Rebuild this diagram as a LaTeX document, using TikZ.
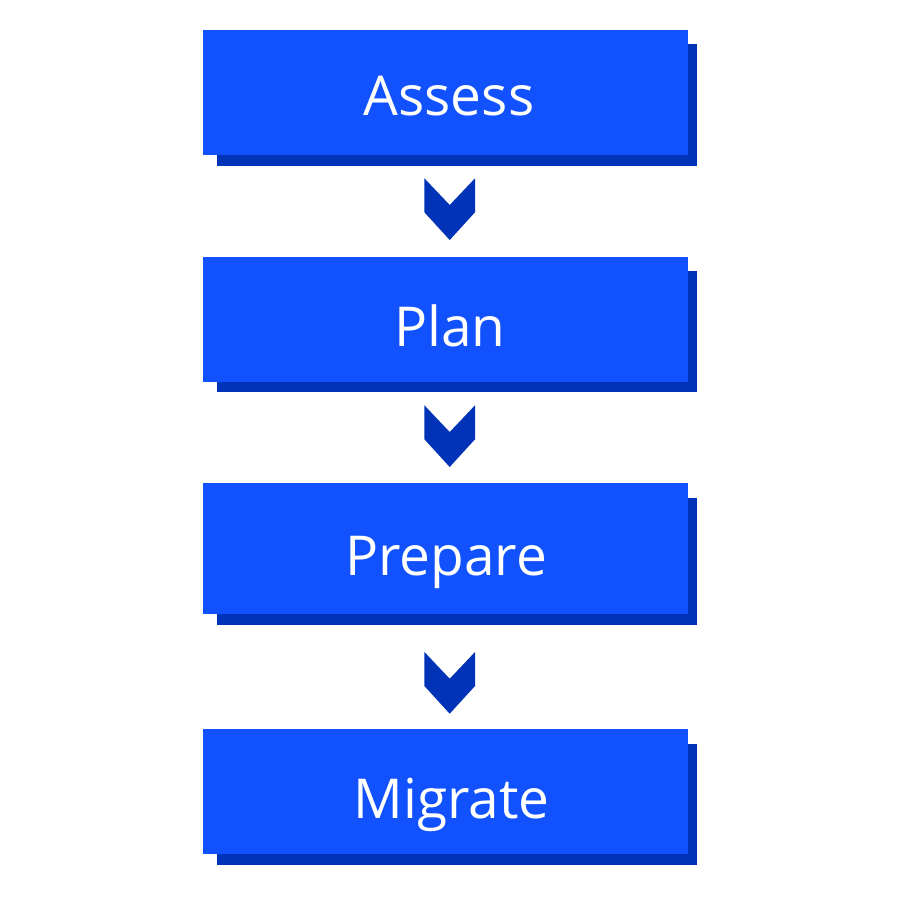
\documentclass[tikz,border=0pt]{standalone}
\usepackage{fontspec}
\setmainfont{Open Sans}
\definecolor{boxblue}{HTML}{1152FE}
\definecolor{darkblue}{HTML}{0033B8}
\tikzset{
  stepbox/.style={rectangle, fill=boxblue, draw=none, inner sep=0pt, minimum width=485pt, anchor=north west},
  shadowbox/.style={fill=darkblue},
  steplabel/.style={text=white, anchor=base, inner sep=0pt, font=\fontsize{55}{66}\selectfont},
  chevron/.pic={\fill[darkblue] (-25.3,0) -- (0,26.7) -- (25.3,0) -- (25.3,34) -- (0,61.7) -- (-25.3,34) -- cycle;}
}
\begin{document}
\begin{tikzpicture}[x=1pt,y=-1pt]
\useasboundingbox (0,0) rectangle (900,900);
% shadows
\fill[shadowbox] (217,44.3) rectangle (697.3,166);
\fill[shadowbox] (217,270.5) rectangle (697.3,392.3);
\fill[shadowbox] (217,497.7) rectangle (697.3,624.7);
\fill[shadowbox] (217,743.7) rectangle (697.3,865);
% boxes
\node[stepbox, minimum height=125pt] (b1) at (202.3,30) {};
\node[stepbox, minimum height=125.4pt] (b2) at (202.3,256.3) {};
\node[stepbox, minimum height=131.3pt] (b3) at (202.3,482.7) {};
\node[stepbox, minimum height=125pt] (b4) at (202.3,729) {};
% labels
\node[steplabel] (t1) at (449,115) {Assess};
\node[steplabel] (t2) at (450,346) {Plan};
\node[steplabel] (t3) at (446,575.7) {Prepare};
\node[steplabel] (t4) at (451.5,818.3) {Migrate};
% chevrons
\pic at (449.7,178.3) {chevron};
\pic at (449.7,405.3) {chevron};
\pic at (449.7,652) {chevron};
\end{tikzpicture}
\end{document}
